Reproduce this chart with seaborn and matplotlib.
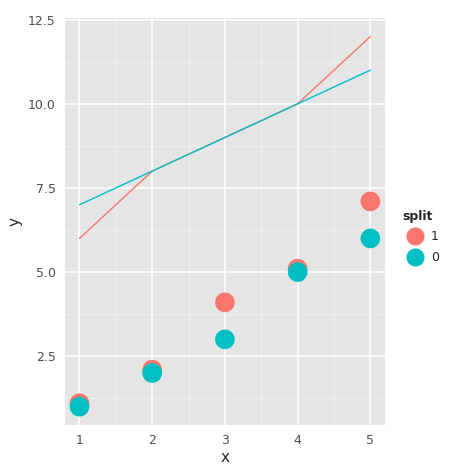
import matplotlib
matplotlib.use("Agg")
import matplotlib.pyplot as plt
import seaborn as sns
import pandas as pd

x = [1, 2, 3, 4, 5]
pts1 = [1.1, 2.1, 4.1, 5.1, 7.1]
pts0 = [1.0, 2.0, 3.0, 5.0, 6.0]
line1 = [6, 8, 9, 10, 12]
line0 = [7, 8, 9, 10, 11]
red, teal = "#F8766D", "#00BFC4"

sns.set_style("darkgrid", {"axes.facecolor": "#E5E5E5", "grid.color": "white"})
fig = plt.figure(figsize=(4.74, 4.74), dpi=100)
ax = fig.add_axes([0.137, 0.103, 0.675, 0.859])

pts = pd.DataFrame({"x": x * 2, "y": pts1 + pts0, "split": ["1"] * 5 + ["0"] * 5})
lines = pd.DataFrame({"x": x * 2, "y": line1 + line0, "split": ["1"] * 5 + ["0"] * 5})
pal = {"1": red, "0": teal}
sns.lineplot(data=lines, x="x", y="y", hue="split", palette=pal, ax=ax, legend=False, lw=1)
sns.scatterplot(data=pts, x="x", y="y", hue="split", palette=pal, ax=ax, s=200, linewidth=0, legend=False)

ax.set_xlim(0.8, 5.2)
ax.set_ylim(0.45, 12.55)
ax.set_xticks([1, 2, 3, 4, 5])
ax.set_yticks([2.5, 5.0, 7.5, 10.0, 12.5])
ax.set_yticklabels(["2.5", "5.0", "7.5", "10.0", "12.5"])
ax.set_xticks([1.5, 2.5, 3.5, 4.5], minor=True)
ax.set_yticks([3.75, 6.25, 8.75, 11.25, 1.25], minor=True)
ax.grid(True, which="major", color="white", lw=1.2)
ax.grid(True, which="minor", color="#F2F2F2", lw=0.6)
ax.tick_params(colors="#4D4D4D", labelsize=9, length=3, color="#333333", which="major")
ax.tick_params(which="minor", length=0)
for s in ax.spines.values():
    s.set_visible(False)
ax.set_xlabel("x", fontsize=11, labelpad=2)
ax.set_ylabel("y", fontsize=11)

from matplotlib.lines import Line2D
handles = [Line2D([], [], marker="o", ls="", color=red, markersize=12),
           Line2D([], [], marker="o", ls="", color=teal, markersize=12)]
leg = fig.legend(handles, ["1", "0"], title="split", loc="center left",
                 bbox_to_anchor=(0.825, 0.5), frameon=False, fontsize=9,
                 handletextpad=0.3, labelspacing=0.6)
leg.get_title().set_fontweight("bold")
leg.get_title().set_fontsize(9)
leg._legend_box.align = "left"
fig.savefig("out.png", dpi=100)
